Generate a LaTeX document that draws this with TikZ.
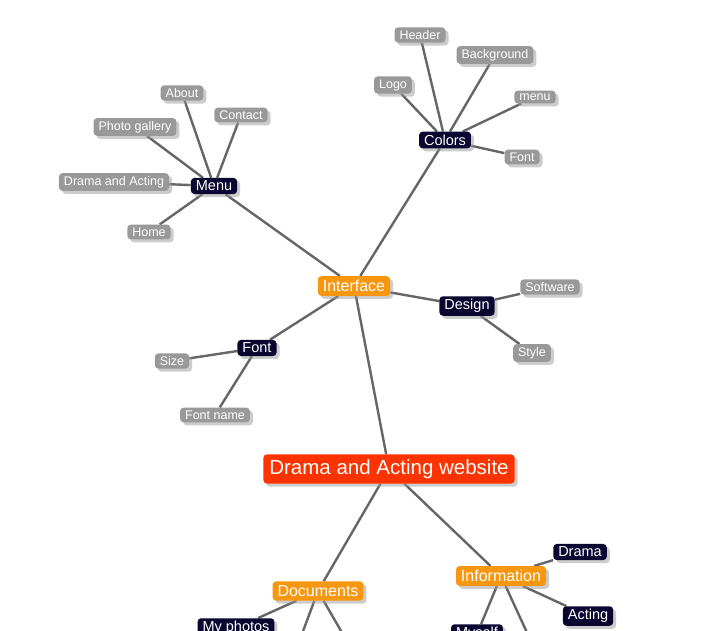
\documentclass[tikz,border=0pt]{standalone}
\usepackage{fontspec}
\setmainfont{Liberation Sans}
\usetikzlibrary{shadows,backgrounds}
\definecolor{leaf}{HTML}{999999}
\definecolor{mid}{HTML}{0A0630}
\definecolor{br}{HTML}{F7960F}
\definecolor{rootc}{HTML}{FF3300}
\definecolor{edge}{HTML}{666666}
\tikzset{
  base/.style={text=white, rounded corners=3.5pt, inner xsep=5pt, inner ysep=3pt, drop shadow={shadow xshift=3pt,shadow yshift=-3pt,fill=black!40}},
  leafn/.style={base, fill=leaf, font=\fontsize{12.5}{14}\selectfont},
  midn/.style={base, fill=mid, font=\fontsize{14.5}{16}\selectfont},
  brn/.style={base, fill=br, font=\fontsize{16}{18}\selectfont, inner ysep=4pt},
  rootn/.style={base, fill=rootc, font=\fontsize{20.5}{23}\selectfont, inner ysep=5pt, inner xsep=6pt},
  con/.style={draw=edge, line width=2.4pt}
}
\begin{document}
\begin{tikzpicture}[x=1pt,y=-1pt]
\useasboundingbox (0,0) rectangle (706,630);
\clip (0,0) rectangle (706,630);
\node[rootn] (root) at (389,469) {Drama and Acting website};
\node[brn] (intf) at (354,286) {Interface};
\node[brn] (docs) at (318,591) {Documents};
\node[brn] (info) at (501,576) {Information};
\node[midn] (colors) at (445,140) {Colors};
\node[midn] (menu) at (214,186) {Menu};
\node[midn] (design) at (467,306) {Design};
\node[midn] (font) at (257,348) {Font};
\node[leafn] (header) at (420,35) {Header};
\node[leafn] (bg) at (495,55) {Background};
\node[leafn] (logo) at (393,85) {Logo};
\node[leafn] (cmenu) at (535,97) {menu};
\node[leafn] (cfont) at (522,157) {Font};
\node[leafn] (about) at (182,93) {About};
\node[leafn] (contact) at (241,115) {Contact};
\node[leafn] (photo) at (135,127) {Photo gallery};
\node[leafn] (dna) at (114,182) {Drama and Acting};
\node[leafn] (home) at (149,232) {Home};
\node[leafn] (soft) at (550,287) {Software};
\node[leafn] (style) at (532,353) {Style};
\node[leafn] (size) at (172,361) {Size};
\node[leafn] (fname) at (215,415) {Font name};
\node[midn] (drama) at (580,552) {Drama};
\node[midn] (acting) at (588,616) {Acting};
\node[midn] (photos) at (236,628) {My photos};
\node[midn] (myself) at (477,634) {Myself};
\coordinate (d1) at (296,650);
\coordinate (d2) at (352,650);
\coordinate (i1) at (535,650);
\begin{pgfonlayer}{background}
\draw[con] (root) -- (intf);
\draw[con] (root) -- (docs);
\draw[con] (root) -- (info);
\draw[con] (intf) -- (colors);
\draw[con] (intf) -- (menu);
\draw[con] (intf) -- (design);
\draw[con] (intf) -- (font);
\draw[con] (colors) -- (header);
\draw[con] (colors) -- (bg);
\draw[con] (colors) -- (logo);
\draw[con] (colors) -- (cmenu);
\draw[con] (colors) -- (cfont);
\draw[con] (menu) -- (about);
\draw[con] (menu) -- (contact);
\draw[con] (menu) -- (photo);
\draw[con] (menu) -- (dna);
\draw[con] (menu) -- (home);
\draw[con] (design) -- (soft);
\draw[con] (design) -- (style);
\draw[con] (font) -- (size);
\draw[con] (font) -- (fname);
\draw[con] (info) -- (drama);
\draw[con] (info) -- (acting);
\draw[con] (info) -- (myself);
\draw[con] (info) -- (i1);
\draw[con] (docs) -- (photos);
\draw[con] (docs) -- (d1);
\draw[con] (docs) -- (d2);
\end{pgfonlayer}
\end{tikzpicture}
\end{document}
